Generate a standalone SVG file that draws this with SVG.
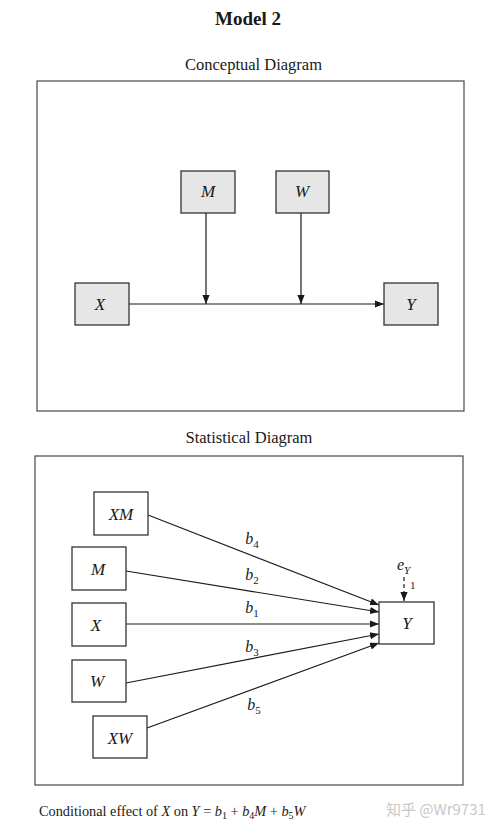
<svg xmlns="http://www.w3.org/2000/svg" width="498" height="829" viewBox="0 0 498 829">
<style>
text{font-family:"Liberation Serif","Times New Roman",serif;fill:#1a1a1a}
.frame{fill:none;stroke:#555;stroke-width:1.3}
.cn{fill:#e6e6e6;stroke:#333;stroke-width:1.3}
.sn{fill:#fff;stroke:#333;stroke-width:1.3}
.lbl{font-size:17px;font-style:italic;text-anchor:middle}
.e{stroke:#1a1a1a;stroke-width:1.2;fill:none}
.b{font-size:16px;font-style:italic;text-anchor:middle}
</style>
<defs>
<marker id="ah" viewBox="0 0 10 10" refX="10" refY="5" markerWidth="9" markerHeight="9" markerUnits="userSpaceOnUse" orient="auto">
<path d="M0,1 L10,5 L0,9 Z" fill="#1a1a1a"/>
</marker>
</defs>
<rect width="498" height="829" fill="#fff"/>
<text x="248" y="25" font-size="19" font-weight="bold" text-anchor="middle">Model 2</text>
<text x="253.5" y="70" font-size="16.5" text-anchor="middle">Conceptual Diagram</text>
<rect class="frame" x="37" y="81" width="427" height="330"/>
<g id="connectors-conceptual">
<line class="e" x1="129" y1="304" x2="384" y2="304" marker-end="url(#ah)"/>
<line class="e" x1="206" y1="213" x2="206" y2="304" marker-end="url(#ah)"/>
<line class="e" x1="301" y1="213" x2="301" y2="304" marker-end="url(#ah)"/>
</g>
<g id="c-M"><rect class="cn" x="181" y="171" width="54" height="42"/><text class="lbl" x="208" y="197">M</text></g>
<g id="c-W"><rect class="cn" x="276" y="171" width="53" height="42"/><text class="lbl" x="302" y="197">W</text></g>
<g id="c-X"><rect class="cn" x="75" y="283" width="54" height="42"/><text class="lbl" x="100" y="310">X</text></g>
<g id="c-Y"><rect class="cn" x="384" y="283" width="54" height="42"/><text class="lbl" x="411" y="310">Y</text></g>

<text x="249" y="443" font-size="16.5" text-anchor="middle">Statistical Diagram</text>
<rect class="frame" x="35" y="456" width="428" height="329"/>
<g id="connectors-statistical">
<line class="e" x1="148" y1="515" x2="379" y2="605" marker-end="url(#ah)"/>
<line class="e" x1="126" y1="571" x2="379" y2="612" marker-end="url(#ah)"/>
<line class="e" x1="126" y1="624" x2="379" y2="624" marker-end="url(#ah)"/>
<line class="e" x1="126" y1="683" x2="379" y2="634" marker-end="url(#ah)"/>
<line class="e" x1="147" y1="728" x2="379" y2="643" marker-end="url(#ah)"/>
<line class="e" x1="404" y1="577" x2="404" y2="601" stroke-dasharray="4,3" marker-end="url(#ah)"/>
<text class="b" x="252" y="544">b<tspan font-size="11" font-style="normal" dy="4">4</tspan></text>
<text class="b" x="252" y="580">b<tspan font-size="11" font-style="normal" dy="4">2</tspan></text>
<text class="b" x="252" y="613">b<tspan font-size="11" font-style="normal" dy="4">1</tspan></text>
<text class="b" x="252" y="652">b<tspan font-size="11" font-style="normal" dy="4">3</tspan></text>
<text class="b" x="254" y="710">b<tspan font-size="11" font-style="normal" dy="4">5</tspan></text>
<text x="397" y="570" font-size="16" font-style="italic">e<tspan font-size="11" dy="4">Y</tspan></text>
<text x="410" y="589" font-size="11">1</text>
</g>
<g id="s-XM"><rect class="sn" x="94" y="492" width="54" height="43"/><text class="lbl" x="121" y="520">XM</text></g>
<g id="s-M"><rect class="sn" x="72" y="547" width="54" height="43"/><text class="lbl" x="98" y="575">M</text></g>
<g id="s-X"><rect class="sn" x="72" y="603" width="54" height="43"/><text class="lbl" x="96" y="631">X</text></g>
<g id="s-W"><rect class="sn" x="72" y="660" width="54" height="42"/><text class="lbl" x="97" y="687">W</text></g>
<g id="s-XW"><rect class="sn" x="93" y="716" width="54" height="42"/><text class="lbl" x="120" y="744">XW</text></g>
<g id="s-Y"><rect class="sn" x="379" y="602" width="55" height="42"/><text class="lbl" x="407" y="629">Y</text></g>

<text x="39" y="816" font-size="14.3">Conditional effect of <tspan font-style="italic">X</tspan> on <tspan font-style="italic">Y</tspan> = <tspan font-style="italic">b</tspan><tspan font-size="10" dy="3">1</tspan><tspan dy="-3"> + </tspan><tspan font-style="italic">b</tspan><tspan font-size="10" dy="3">4</tspan><tspan font-style="italic" dy="-3">M</tspan> + <tspan font-style="italic">b</tspan><tspan font-size="10" dy="3">5</tspan><tspan font-style="italic" dy="-3">W</tspan></text>
<text x="386" y="815" font-size="15" style="fill:#c8c8c8;font-family:'Noto Sans CJK SC','Liberation Sans',sans-serif">知乎 @Wr9731</text>
</svg>
